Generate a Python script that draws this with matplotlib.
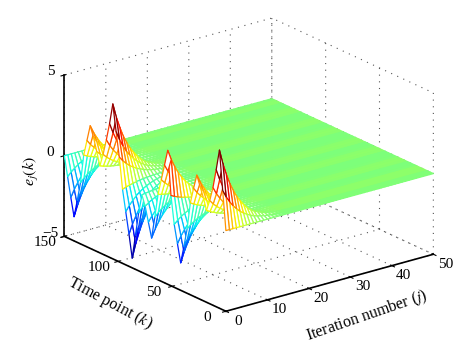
import numpy as np
import matplotlib
matplotlib.use("Agg")
import matplotlib.pyplot as plt

plt.rcParams['font.family'] = ['Liberation Serif', 'DejaVu Serif']
plt.rcParams['mathtext.fontset'] = 'stix'

# iteration axis (j) and time axis (k)
iters = np.linspace(0, 50, 61)
times = np.arange(0, 151, 3)

# error at first iteration for each time point, k = 0, 3, ... 150
first_iter = [0.0, 2.4, 4.8, 3.5, 2.3, 1.4, 0.7, 1.4, 2.0, 2.6, 1.7, 0.7, -1.0, -2.2,
              -3.3, -2.2, -1.1, 0.6, 3.3, 2.3, 1.3, 0.3, -1.2, -2.6, -1.7, -0.8, -0.2,
              -1.4, -2.9, -4.4, -3.0, -1.7, -0.4, 1.5, 3.0, 4.6, 3.3, 2.2, 1.2, 0.4,
              1.2, 2.0, 2.6, 1.6, 0.6, -1.2, -2.4, -3.5, -2.4, -1.2, 0.0]

# decay of the error over iterations
decay = [1.0, 0.81, 0.66, 0.53, 0.43, 0.34, 0.27, 0.21, 0.16, 0.12, 0.09, 0.07, 0.05, 0.035, 0.025,
         0.017, 0.011, 0.007, 0.004, 0.002, 0.001] + [0.0] * 40

# faint yellowish bands along the flat part, k = 0, 3, ... 150
tint = [0.05, 0.05, 0.20, 0.22, 0.20, 0.05, 0.03, 0.03, 0.18, 0.20, 0.18, 0.05, 0.03, 0.03,
        0.03, 0.16, 0.20, 0.16, 0.05, 0.03, 0.03, 0.16, 0.20, 0.18, 0.05, 0.03, 0.03, 0.03,
        0.18, 0.22, 0.18, 0.05, 0.03, 0.03, 0.16, 0.20, 0.18, 0.05, 0.03, 0.03, 0.03, 0.16,
        0.20, 0.16, 0.05, 0.03, 0.03, 0.16, 0.18, 0.05, 0.03]

xticks = [0, 10, 20, 30, 40, 50]
yticks = [0, 50, 100, 150]
zticks = [-5, 0, 5]
zlabels = ['\u22125', '0', '5']

J, K = np.meshgrid(iters, times)
E = np.outer(first_iter, decay)

fig = plt.figure(figsize=(4.74, 3.59), dpi=100)
ax = fig.add_axes([7 / 474, 10 / 359, 1, 1], projection='3d', proj_type='ortho')
ax.view_init(elev=20.9, azim=-127.6)
ax.set_box_aspect((266, 269, 175.5), zoom=1.11)

# colour each cell by its strongest corner so the tips come out dark
corners = np.stack([E[:-1, :-1], E[1:, :-1], E[:-1, 1:], E[1:, 1:]])
pick = np.abs(corners).argmax(axis=0)
strong = np.take_along_axis(corners, pick[None], axis=0)[0]

# mesh with white faces near the spikes, flat part looks solid
solid = np.clip((J[:-1, :-1] - 10) / 4, 0, 1)[..., None]
bands = np.array(tint)[:-1, None] * solid[..., 0]
cols = plt.cm.jet((strong + bands + 4.8) / 9.6)
faces = cols.copy()
faces[..., :3] = solid * cols[..., :3] + (1 - solid)

surf = ax.plot_surface(J, K, E, rstride=1, cstride=1, facecolors=cols, shade=False, linewidth=0.9)
surf.set_facecolor(faces.reshape(-1, 4))
surf.set_edgecolor(cols.reshape(-1, 4))
surf.set_clip_on(False)

ax.set_xlim(0, 50, view_margin=0)
ax.set_ylim(0, 150, view_margin=0)
ax.set_zlim(-5, 5, view_margin=0)
ax.set_xticks(xticks)
ax.set_yticks(yticks)
ax.set_zticks(zticks)

for axis in (ax.xaxis, ax.yaxis, ax.zaxis):
    axis.set_pane_color((1, 1, 1, 0))
    axis.pane.set_edgecolor((1, 1, 1, 0))
    axis._axinfo['grid'].update(color='#555555', linestyle=(0, (1, 5)), linewidth=0.8)
    axis._axinfo['axisline']['color'] = '#222222'
    axis.line.set_linewidth(1.2)
    axis.label.set_visible(False)
    axis.offsetText.set_visible(False)
    for t in axis.get_major_ticks():
        t.label1.set_visible(False)

# tick labels sit further along the axes than matplotlib puts them
for j in xticks:
    ax.text(j - 1.4, -16.5, -5, str(j), fontsize=11, ha='center', va='center')
for k in yticks:
    ax.text(-4.8, k - 1, -5, str(k), fontsize=11, ha='center', va='center')
for z, s in zip(zticks, zlabels):
    ax.text(-1, 159, z, s, fontsize=11, ha='center', va='center')

fig.text(367 / 474, 1 - 316 / 359, 'Iteration number ($j$)', fontsize=11.5, rotation=19, ha='center', va='center')
fig.text(110 / 474, 1 - 303 / 359, 'Time point ($k$)', fontsize=11.5, rotation=-28, ha='center', va='center')
fig.text(31 / 474, 1 - 171 / 359, '$e_j(k)$', fontsize=11.5, rotation=90, ha='center', va='center')

fig.savefig('out.png', dpi=100)
